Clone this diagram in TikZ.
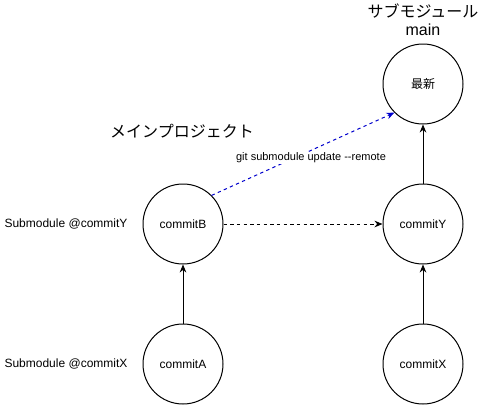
\documentclass[tikz,border=0pt]{standalone}
\usepackage{fontspec}
\setmainfont{Liberation Sans}
\newfontfamily\jp{Noto Sans CJK JP}
\usetikzlibrary{arrows.meta}

\begin{document}
\begin{tikzpicture}[x=0.75pt,y=-0.75pt,
  commit/.style={circle,draw,line width=0.75pt,minimum size=60pt,inner sep=0pt,font=\fontsize{9}{11}\selectfont},
  note/.style={font=\fontsize{9}{11}\selectfont},
  heading/.style={font=\jp\fontsize{12}{14}\selectfont},
  tip/.style={-{Stealth[length=6pt,width=5pt]},line width=0.75pt},
  jump/.style={tip,dashed,dash pattern=on 2.5pt off 2.5pt}]
\useasboundingbox (0,0) rectangle (490,405);
\node[heading] (subhead) at (423,11) {サブモジュール};
\node[font=\fontsize{12}{14}\selectfont] (branch) at (423,30) {main};
\node[heading] (mainhead) at (182,131) {メインプロジェクト};
\node[commit] (latest) at (423,84) {\jp 最新};
\node[commit] (commitY) at (423,224) {commitY};
\node[commit] (commitX) at (423,364) {commitX};
\node[commit] (commitB) at (183,224) {commitB};
\node[commit] (commitA) at (183,364) {commitA};
\node[note] (pinY) at (66,224) {Submodule @commitY};
\node[note] (pinX) at (66,364) {Submodule @commitX};
\draw[tip] (commitA) -- (commitB);
\draw[tip] (commitX) -- (commitY);
\draw[tip] (commitY) -- (latest);
\draw[jump] (commitB) -- (commitY);
\draw[jump,color={rgb,255:red,0;green,0;blue,204}] (commitB.45) -- (latest.225);
% label sits over the blue line
\node[fill=white,inner sep=1pt,font=\fontsize{8.25}{10}\selectfont] (cmd) at (311,158) {git submodule update -{}-remote};
\end{tikzpicture}
\end{document}
